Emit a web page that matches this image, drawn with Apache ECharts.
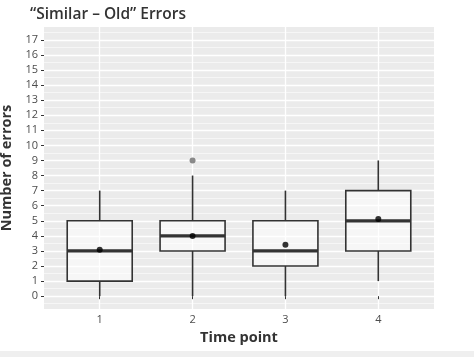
<!DOCTYPE html>
<html><head><meta charset="utf-8">
<script src="https://cdn.jsdelivr.net/npm/echarts@6/dist/echarts.min.js"></script>
<style>html,body{margin:0;padding:0;background:#fff}#c{width:474px;height:357px}</style>
</head><body><div id="c"></div>
<script>
const timePoints = [1, 2, 3, 4];
const whiskerLow = [0, 0, 0, 1];
const q1 = [1, 3, 2, 3];
const medians = [3, 4, 3, 5];
const q3 = [5, 5, 5, 7];
const whiskerHigh = [7, 8, 7, 9];
const means = [3.08, 3.99, 3.41, 5.12];
const outliers = [[2, 9]];
const yTicks = [0,1,2,3,4,5,6,7,8,9,10,11,12,13,14,15,16,17];
const yMinor = [-0.5,0.5,1.5,2.5,3.5,4.5,5.5,6.5,7.5,8.5,9.5,10.5,11.5,12.5,13.5,14.5,15.5,16.5,17.5];

const boxData = timePoints.map((t, i) => [t, whiskerLow[i], q1[i], medians[i], q3[i], whiskerHigh[i]]);
const meanData = timePoints.map((t, i) => [t, means[i]]);

const FONT = "'Open Sans', 'Noto Sans', sans-serif";
const chart = echarts.init(document.getElementById('c'), null, {renderer: 'canvas'});
chart.setOption({
  animation: false,
  backgroundColor: '#ffffff',
  title: {
    text: '\u201cSimilar \u2013 Old\u201d Errors',
    left: 25, top: 2,
    textStyle: {fontFamily: FONT, fontSize: 15.5, fontWeight: 600, color: '#333333'}
  },
  grid: {left: 44, right: 40, top: 27, height: 282, show: true, backgroundColor: '#EBEBEB', borderWidth: 0,
    containLabel: false, outerBoundsMode: 'none'},
  xAxis: {
    type: 'value', min: 0.4, max: 4.6,
    name: 'Time point', nameLocation: 'middle', nameGap: 21,
    nameTextStyle: {fontFamily: FONT, fontSize: 14.5, fontWeight: 'bold', color: '#333333'},
    axisLine: {show: false},
    axisTick: {show: true, length: 3, lineStyle: {color: '#333333', width: 1}, customValues: timePoints},
    axisLabel: {fontFamily: FONT, fontSize: 11, color: '#4D4D4D', margin: 5, customValues: timePoints},
    splitLine: {show: true, lineStyle: {color: '#ffffff', width: 1.3}}
  },
  yAxis: [{
    type: 'value', min: -0.85, max: 17.85,
    name: 'Number of errors', nameLocation: 'middle', nameGap: 24,
    nameTextStyle: {fontFamily: FONT, fontSize: 14.5, fontWeight: 'bold', color: '#333333'},
    axisLine: {show: false},
    axisTick: {show: true, length: 3, lineStyle: {color: '#333333', width: 1}, customValues: yTicks},
    axisLabel: {fontFamily: FONT, fontSize: 11, color: '#4D4D4D', margin: 6, customValues: yTicks},
    splitLine: {show: true, lineStyle: {color: '#ffffff', width: 1.3}}
  }, {
    type: 'value', min: -0.85, max: 17.85, position: 'left',
    axisLine: {show: false},
    axisTick: {show: false, customValues: yMinor},
    axisLabel: {show: false, customValues: yMinor},
    splitLine: {show: true, lineStyle: {color: '#FAFAFA', width: 0.7}}
  }],
  graphic: [{
    type: 'rect', left: 0, top: 351, shape: {width: 474, height: 6},
    style: {fill: '#EFEFEF'}, silent: true, z: -1
  }],
  series: [{
    type: 'custom',
    yAxisIndex: 0,
    data: boxData,
    encode: {x: 0, y: [1, 2, 3, 4, 5]},
    renderItem: function (params, api) {
      const x = api.value(0);
      const lo = api.coord([x, api.value(1)]);
      const b1 = api.coord([x, api.value(2)]);
      const md = api.coord([x, api.value(3)]);
      const b3 = api.coord([x, api.value(4)]);
      const hi = api.coord([x, api.value(5)]);
      const w = api.size([0.7, 0])[0];
      const cx = lo[0];
      const stroke = '#333333';
      return {
        type: 'group',
        children: [
          {type: 'line', shape: {x1: cx, y1: lo[1], x2: cx, y2: b1[1]}, style: {stroke: stroke, lineWidth: 1.6}},
          {type: 'line', shape: {x1: cx, y1: b3[1], x2: cx, y2: hi[1]}, style: {stroke: stroke, lineWidth: 1.6}},
          {type: 'rect', shape: {x: cx - w / 2, y: b3[1], width: w, height: b1[1] - b3[1]},
            style: {fill: 'rgba(255,255,255,0.55)', stroke: stroke, lineWidth: 1.6}},
          {type: 'line', shape: {x1: cx - w / 2, y1: md[1], x2: cx + w / 2, y2: md[1]}, style: {stroke: stroke, lineWidth: 3.2}}
        ]
      };
    },
    z: 2
  }, {
    type: 'scatter', yAxisIndex: 0, data: meanData, symbolSize: 6,
    itemStyle: {color: '#000000'}, z: 5
  }, {
    type: 'scatter', yAxisIndex: 0, data: outliers, symbolSize: 6,
    itemStyle: {color: '#6E6E6E'}, z: 5
  }]
});
</script>
</body></html>
